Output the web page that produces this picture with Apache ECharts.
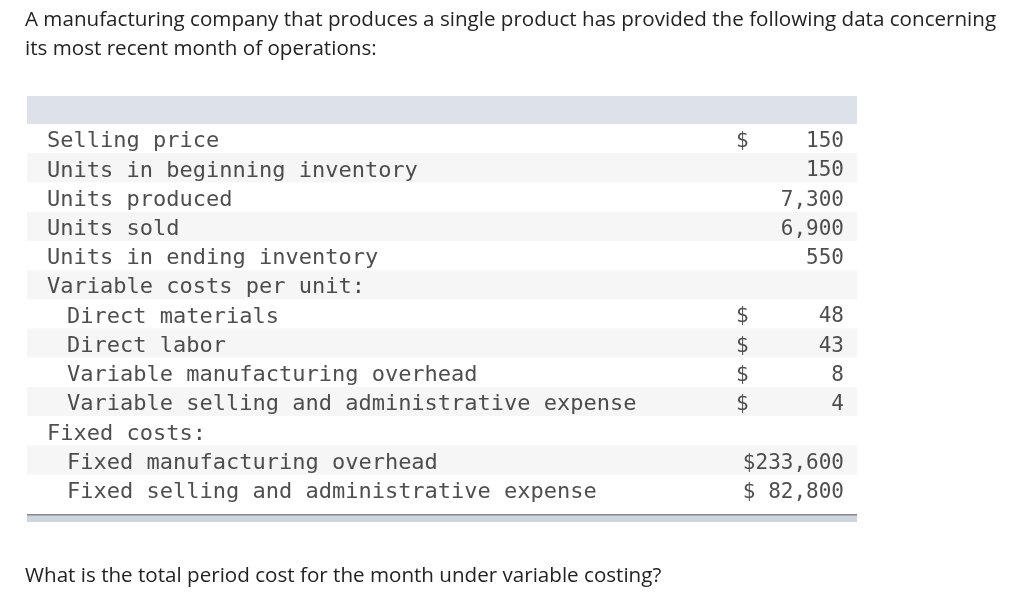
<!DOCTYPE html>
<html><head><meta charset="utf-8">
<script src="https://cdn.jsdelivr.net/npm/echarts@6/dist/echarts.min.js"></script>
<style>html,body{margin:0;background:#fff}#c{width:1024px;height:609px}</style>
</head><body><div id="c"></div>
<script>
// table rows
var rowLabels = ['Selling price', 'Units in beginning inventory', 'Units produced', 'Units sold',
  'Units in ending inventory', 'Variable costs per unit:', 'Direct materials', 'Direct labor',
  'Variable manufacturing overhead', 'Variable selling and administrative expense', 'Fixed costs:',
  'Fixed manufacturing overhead', 'Fixed selling and administrative expense'];
var rowIndent = [0, 0, 0, 0, 0, 0, 1, 1, 1, 1, 0, 1, 1];
var rowDollar = ['$', '', '', '', '', '', '$', '$', '$', '$', '', '', ''];
var rowValues = ['150', '150', '7,300', '6,900', '550', '', '48', '43', '8', '4', '', '$233,600', '$ 82,800'];

var mono = '"DejaVu Sans Mono", monospace';
var cats = rowLabels.map(function(l, i) { return 'r' + i; });

function textSeries(points, pos, size) {
  return {
    type: 'scatter', symbolSize: 0, silent: true, data: points,
    label: { show: true, position: pos, distance: 0, offset: [0, 3], color: '#222', fontFamily: mono, fontSize: size,
      formatter: function(p) { return p.data[2]; } }
  };
}

var labelPts = rowLabels.map(function(l, i) { return [20 + rowIndent[i] * 20, cats[i], l]; });
var dollarPts = [];
rowDollar.forEach(function(d, i) { if (d) dollarPts.push([709, cats[i], d]); });
var valuePts = [];
rowValues.forEach(function(v, i) { if (v) valuePts.push([817, cats[i], v]); });

var chart = echarts.init(document.getElementById('c'));
chart.setOption({
  animation: false,
  grid: { left: 27, top: 124, width: 830, height: 380 },
  xAxis: { type: 'value', min: 0, max: 830, show: false },
  yAxis: { type: 'category', data: cats, inverse: true,
    axisLine: { show: false }, axisTick: { show: false }, axisLabel: { show: false },
    splitLine: { show: false },
    splitArea: { show: true, areaStyle: { color: ['#ffffff', '#f6f6f6'] } } },
  graphic: [
    { type: 'text', left: 25, top: 10, style: { text: 'A manufacturing company that produces a single product has provided the following data concerning',
      font: '20.6px "Open Sans", sans-serif', fill: '#222' } },
    { type: 'text', left: 25, top: 39, style: { text: 'its most recent month of operations:',
      font: '20.6px "Open Sans", sans-serif', fill: '#222' } },
    { type: 'rect', shape: { x: 27, y: 96, width: 830, height: 28 }, style: { fill: '#dde2ea' } },
    { type: 'rect', shape: { x: 27, y: 515, width: 830, height: 7 }, style: { fill: '#cfd5de' } },
    { type: 'rect', shape: { x: 27, y: 514, width: 830, height: 1.5 }, style: { fill: '#888' } },
    { type: 'text', left: 25, top: 566, style: { text: 'What is the total period cost for the month under variable costing?',
      font: '20.6px "Open Sans", sans-serif', fill: '#222' } }
  ],
  series: [textSeries(labelPts, 'right', 22), textSeries(dollarPts, 'right', 21), textSeries(valuePts, 'left', 21)]
});
</script></body></html>
